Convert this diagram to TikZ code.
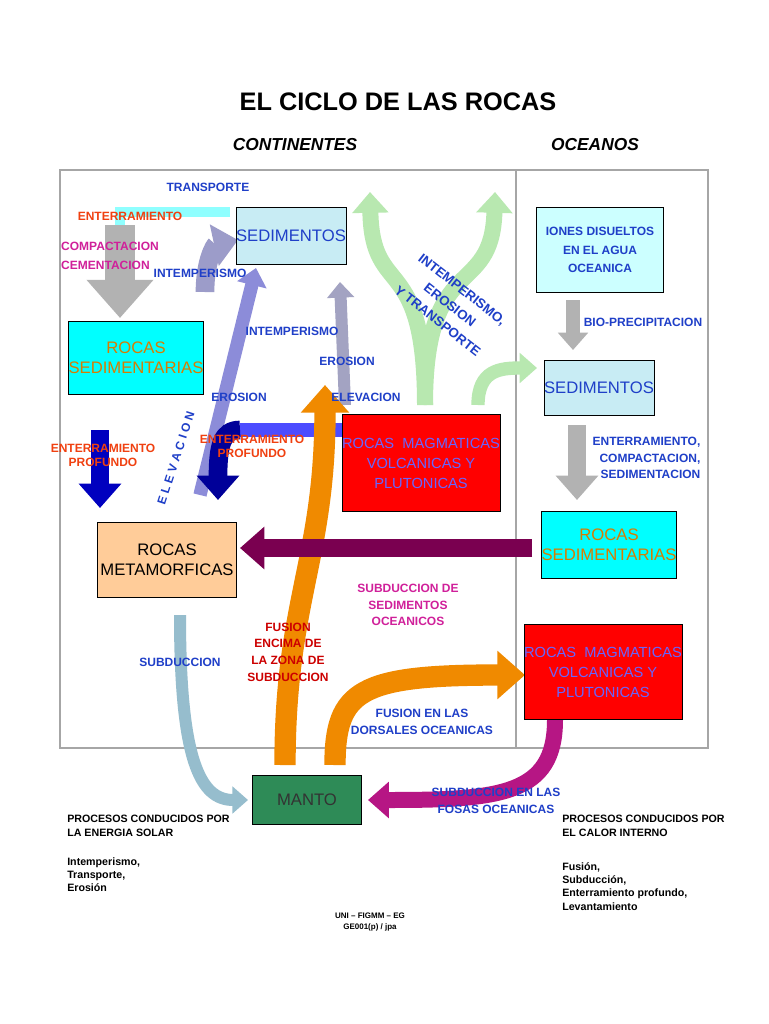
\documentclass[tikz,border=0pt]{standalone}
\usepackage{fontspec}
\setmainfont{Liberation Sans}
\usetikzlibrary{arrows.meta}
\definecolor{lbl}{HTML}{1F3FC8}
\definecolor{orr}{HTML}{F04010}
\definecolor{mag}{HTML}{D0209A}
\definecolor{boxc}{HTML}{00FFFF}
\definecolor{sedc}{HTML}{C8ECF4}
\definecolor{magc}{HTML}{FF0000}
\definecolor{metc}{HTML}{FFCC99}
\definecolor{mantc}{HTML}{2E8B57}
\definecolor{ionc}{HTML}{CCFFFF}
\definecolor{maroon}{HTML}{7A0050}
\definecolor{orng}{HTML}{F08A00}
\definecolor{grn}{HTML}{B8E8B0}
\begin{document}
\begin{tikzpicture}[x=0.75pt,y=-0.75pt,
 lab/.style={font=\bfseries\fontsize{9}{10.5}\selectfont,text=lbl,align=center,inner sep=1pt},
 bx/.style={draw=black,line width=0.5pt,font=\fontsize{12.5}{15}\selectfont,align=center,inner sep=0pt},
 fat/.style={line width=#1,-{Triangle[width=#1*2.2,length=#1*1.3]}},
 small/.style={font=\bfseries\fontsize{8}{10}\selectfont,align=left,inner sep=0pt,anchor=north west}]
\useasboundingbox (0,0) rectangle (768,1024);
\fill[white] (0,0) rectangle (768,1024);
\node (title) at (398,102) {\bfseries\fontsize{19}{22}\selectfont EL CICLO DE LAS ROCAS};
\node (cont) at (295,145) {\bfseries\itshape\fontsize{13}{15}\selectfont CONTINENTES};
\node (oce) at (595,145) {\bfseries\itshape\fontsize{13}{15}\selectfont OCEANOS};
\draw[gray!70,line width=2pt] (60,170) rectangle (708,748);
\coordinate (dt) at (516,170); \coordinate (db) at (516,748);
\draw[gray!70,line width=1pt] (dt) -- (db);
% arrows (behind boxes)
\draw[gray!60,fat=22pt] (120,225) -- (120,318);
\draw[ionc!70!cyan,line width=8pt] (230,212) -- (120,212) -- (120,225);
\draw[blue!30!gray!60,fat=14pt] (205,292) .. controls (205,260) and (215,245) .. (238,240);
\draw[gray!50!blue!60,fat=10pt] (200,495) -- (256,268);
\draw[blue!20!gray!60,fat=9pt] (345,405) -- (340,282);
\draw[grn,fat=12pt] (425,405) .. controls (425,250) and (372,300) .. (370,192);
\draw[grn,fat=12pt] (425,405) .. controls (425,250) and (492,300) .. (495,192);
\draw[grn,fat=10pt] (478,405) .. controls (478,370) and (500,368) .. (537,368);
\draw[blue!75!black,fat=14pt] (100,430) -- (100,508);
\draw[blue!70,line width=10pt] (345,430) -- (240,430);
\draw[blue!60!black,fat=14pt] (240,430) .. controls (222,430) and (218,445) .. (218,500);
\draw[orng,fat=16pt] (285,765) .. controls (285,600) and (325,560) .. (325,385);
\draw[orng,fat=16pt] (335,765) .. controls (335,690) and (360,675) .. (525,675);
\draw[maroon,fat=14pt] (532,548) -- (240,548);
\draw[mag!70!maroon,fat=12pt] (555,720) .. controls (555,795) and (500,800) .. (368,800);
\draw[cyan!40!gray!70,fat=9pt] (180,615) .. controls (180,760) and (200,800) .. (248,800);
\draw[gray!60,fat=10pt] (573,300) -- (573,350);
\draw[gray!60,fat=14pt] (577,425) -- (577,500);
% boxes
\node[bx,fill=sedc,text=lbl,minimum width=81pt,minimum height=43pt] (sed1) at (291,236) {SEDIMENTOS};
\node[bx,fill=boxc,text=orng!90!black,minimum width=100pt,minimum height=55pt] (rs1) at (136,358) {ROCAS\\SEDIMENTARIAS};
\node[bx,fill=magc,text=blue!60!white,font=\fontsize{11}{15}\selectfont,minimum width=115pt,minimum height=73pt] (rm1) at (421,463) {ROCAS\ \ MAGMATICAS\\VOLCANICAS Y\\PLUTONICAS};
\node[bx,fill=metc,text=black,minimum width=104pt,minimum height=56pt] (met) at (167,560) {ROCAS\\METAMORFICAS};
\node[bx,fill=ionc,text=lbl,font=\bfseries\fontsize{9}{14}\selectfont,minimum width=95pt,minimum height=64pt] (ion) at (600,250) {IONES DISUELTOS\\EN EL AGUA\\OCEANICA};
\node[bx,fill=sedc,text=lbl,minimum width=81pt,minimum height=41pt] (sed2) at (599,388) {SEDIMENTOS};
\node[bx,fill=boxc,text=orng!90!black,minimum width=99pt,minimum height=50pt] (rs2) at (609,545) {ROCAS\\SEDIMENTARIAS};
\node[bx,fill=magc,text=blue!60!white,font=\fontsize{11}{15}\selectfont,minimum width=115pt,minimum height=71pt] (rm2) at (603,672) {ROCAS\ \ MAGMATICAS\\VOLCANICAS Y\\PLUTONICAS};
\node[bx,fill=mantc,text=black!80,minimum width=82pt,minimum height=37pt] (manto) at (307,800) {MANTO};
% labels
\node[lab] (l1) at (208,187) {TRANSPORTE};
\node[lab,text=orr] (l2) at (130,216) {ENTERRAMIENTO};
\node[lab,text=mag,align=left] (l3) at (110,256) {COMPACTACION\\[4pt]CEMENTACION};
\node[lab] (l4) at (200,273) {INTEMPERISMO};
\node[lab] (l5) at (292,331) {INTEMPERISMO};
\node[lab] (l6) at (347,361) {EROSION};
\node[lab] (l7) at (239,397) {EROSION};
\node[lab] (l8) at (366,397) {ELEVACION};
\node[lab,rotate=72] (l9) at (176,458) {E L E V A C I O N};
\node[lab,rotate=-38,font=\bfseries\fontsize{10}{15}\selectfont] (l10) at (450,305) {INTEMPERISMO,\\EROSION\\Y TRANSPORTE};
\node[lab,text=orr] (l11) at (103,455) {ENTERRAMIENTO\\PROFUNDO};
\node[lab,text=orr] (l12) at (252,446) {ENTERRAMIENTO\\PROFUNDO};
\node[lab] (l13) at (643,322) {BIO-PRECIPITACION};
\node[lab,align=right,anchor=east] (l14) at (702,458) {ENTERRAMIENTO,\\[2pt]COMPACTACION,\\[2pt]SEDIMENTACION};
\node[lab,text=mag] (l15) at (408,605) {SUBDUCCION DE\\[2pt]SEDIMENTOS\\[2pt]OCEANICOS};
\node[lab,text=red!80!black] (l16) at (288,652) {FUSION\\[2pt]ENCIMA DE\\[2pt]LA ZONA DE\\[2pt]SUBDUCCION};
\node[lab] (l17) at (180,662) {SUBDUCCION};
\node[lab] (l18) at (422,722) {FUSION EN LAS\\[2pt]DORSALES OCEANICAS};
\node[lab] (l19) at (496,801) {SUBDUCCION EN LAS\\[2pt]FOSAS OCEANICAS};
\node[small] (b1) at (67,815) {PROCESOS CONDUCIDOS POR\\LA ENERGIA SOLAR};
\node[small] (b2) at (67,857) {Intemperismo,\\Transporte,\\Erosión};
\node[small] (b3) at (562,815) {PROCESOS CONDUCIDOS POR\\EL CALOR INTERNO};
\node[small] (b4) at (562,862) {Fusión,\\Subducción,\\Enterramiento profundo,\\Levantamiento};
\node[font=\bfseries\fontsize{6}{8}\selectfont,align=center] (b5) at (370,922) {UNI -- FIGMM -- EG\\GE001(p) / jpa};
\end{tikzpicture}
\end{document}
